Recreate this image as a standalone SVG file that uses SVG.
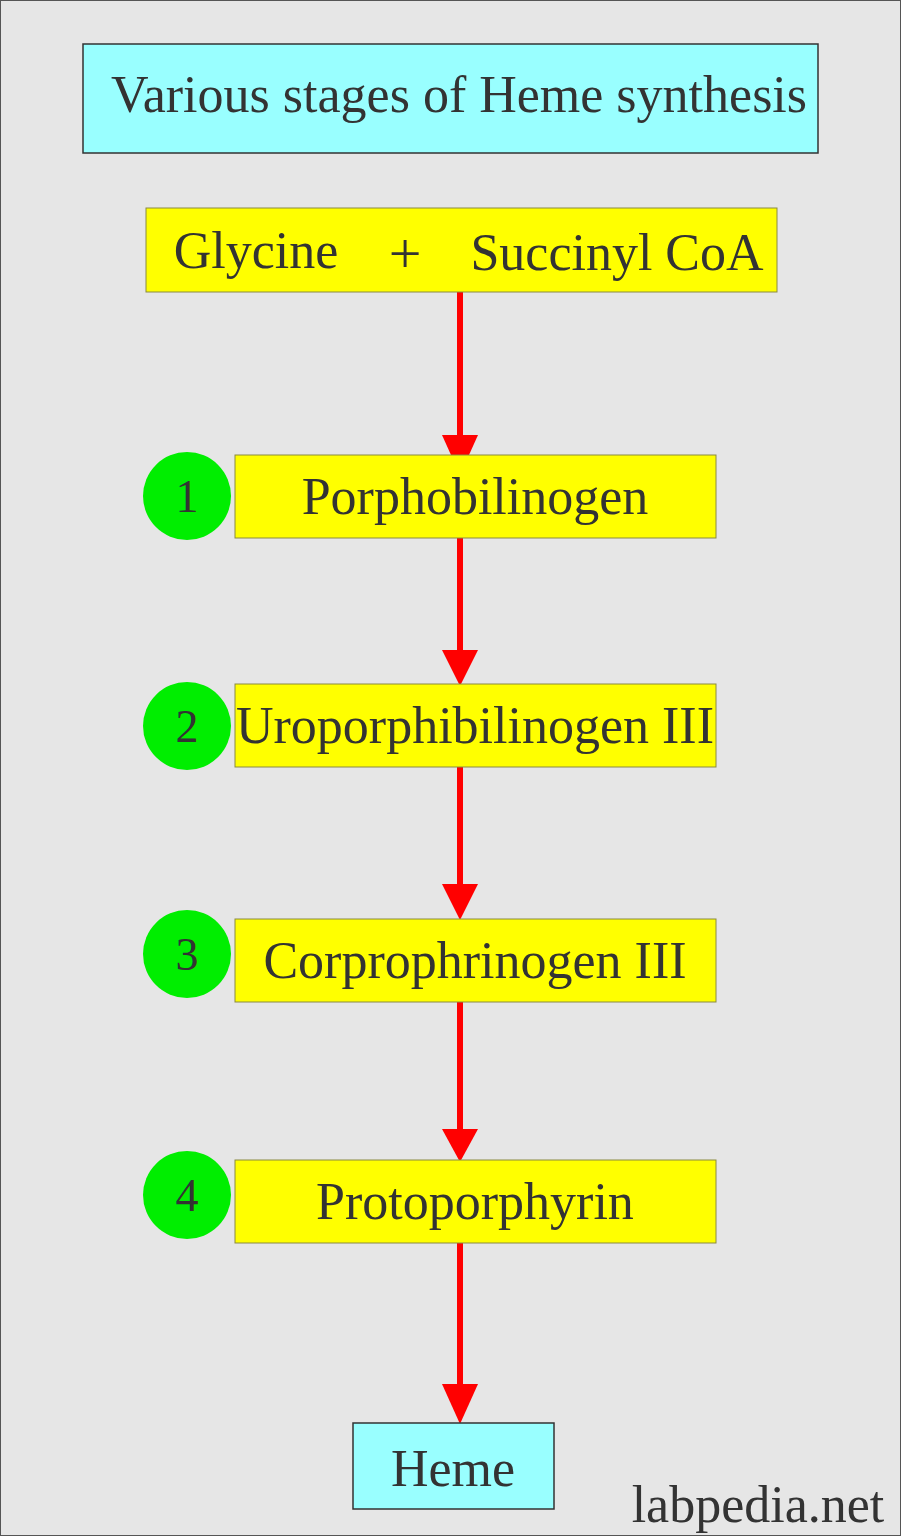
<svg xmlns="http://www.w3.org/2000/svg" width="901" height="1536" viewBox="0 0 901 1536">
<style>
text{font-family:"Liberation Serif","Times New Roman",serif;fill:#333;text-anchor:middle}
.y{fill:#ffff00;stroke:#8a8a40;stroke-width:1}
.c{fill:#99ffff;stroke:#333;stroke-width:1.5}
.g{fill:#00ee00}
</style>
<rect x="0.5" y="0.5" width="900" height="1535" fill="#e6e6e6" stroke="#555"/>
<g id="connectors" stroke="#ff0000" stroke-width="6">
<line x1="460" y1="292" x2="460" y2="440"/><path d="M442,435L478,435L460,475Z" fill="#ff0000" stroke="none"/>
<line x1="460" y1="538" x2="460" y2="655"/><path d="M442,650L478,650L460,686Z" fill="#ff0000" stroke="none"/>
<line x1="460" y1="767" x2="460" y2="890"/><path d="M442,884L478,884L460,920Z" fill="#ff0000" stroke="none"/>
<line x1="460" y1="1002" x2="460" y2="1135"/><path d="M442,1129L478,1129L460,1162Z" fill="#ff0000" stroke="none"/>
<line x1="460" y1="1243" x2="460" y2="1390"/><path d="M442,1384L478,1384L460,1424Z" fill="#ff0000" stroke="none"/>
</g>
<g id="title"><rect class="c" x="83" y="44" width="735" height="109"/><text x="459" y="112" font-size="52">Various stages of Heme synthesis</text></g>
<g id="start"><rect class="y" x="146" y="208" width="631" height="84"/><text x="256" y="268" font-size="52">Glycine</text><text x="405" y="273" font-size="58">+</text><text x="617" y="270" font-size="52">Succinyl CoA</text></g>
<g id="n1"><circle class="g" cx="187" cy="496" r="44"/><text x="187" y="512" font-size="46">1</text><rect class="y" x="235" y="455" width="481" height="83"/><text x="475" y="514" font-size="52">Porphobilinogen</text></g>
<g id="n2"><circle class="g" cx="187" cy="726" r="44"/><text x="187" y="742" font-size="46">2</text><rect class="y" x="235" y="684" width="481" height="83"/><text x="475" y="743" font-size="52">Uroporphibilinogen III</text></g>
<g id="n3"><circle class="g" cx="187" cy="954" r="44"/><text x="187" y="970" font-size="46">3</text><rect class="y" x="235" y="919" width="481" height="83"/><text x="475" y="978" font-size="52">Corprophrinogen III</text></g>
<g id="n4"><circle class="g" cx="187" cy="1195" r="44"/><text x="187" y="1211" font-size="46">4</text><rect class="y" x="235" y="1160" width="481" height="83"/><text x="475" y="1219" font-size="52">Protoporphyrin</text></g>
<g id="heme"><rect class="c" x="353" y="1423" width="201" height="86"/><text x="453" y="1486" font-size="52">Heme</text></g>
<text x="758" y="1522" font-size="52">labpedia.net</text>
</svg>
